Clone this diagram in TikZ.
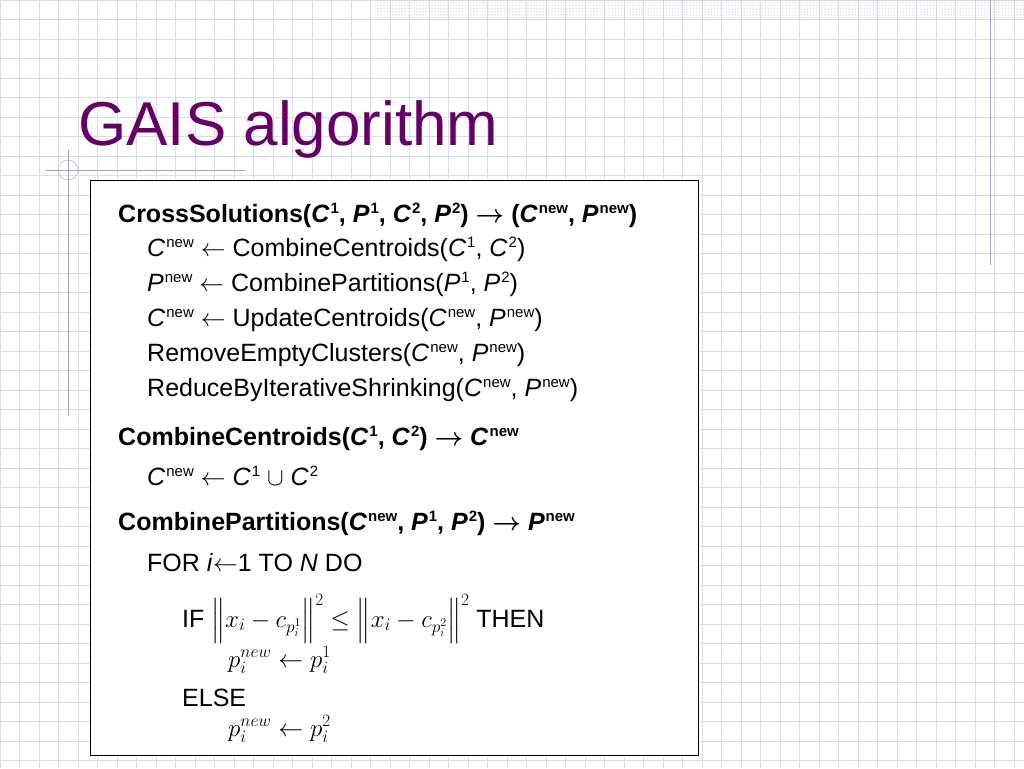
\documentclass[tikz,border=0pt]{standalone}
\usepackage{fontspec}
\setmainfont{Liberation Sans}
\usepackage{amsmath}
\usetikzlibrary{patterns}
\definecolor{gridblue}{RGB}{214,222,240}
\definecolor{titlepurple}{RGB}{102,0,102}
\definecolor{decoblue}{RGB}{150,165,220}
\tikzset{line/.style={anchor=base west,inner sep=0pt,font=\fontsize{25}{28}\selectfont}}
\newcommand{\sv}[2]{\textit{#1}\raisebox{9pt}{\fontsize{15}{15}\selectfont\upshape\kern1pt#2}}
\begin{document}
\begin{tikzpicture}[x=1pt,y=-1pt]
  \useasboundingbox (0,0) rectangle (1024,768);
  \fill[white] (0,0) rectangle (1024,768);
  % background grid
  \foreach \g in {0,19.5,...,1024} \draw[gridblue,line width=0.5pt] (\g,0) -- (\g,768);
  \foreach \g in {0,19.5,...,768} \draw[gridblue,line width=0.5pt] (0,\g) -- (1024,\g);
  \fill[pattern=dots,pattern color=decoblue] (375,0) rectangle (1024,18);
  \draw[decoblue] (990,0) -- (990,265);
  \draw[decoblue] (68,150) -- (68,415);
  \draw[decoblue] (45,170) -- (245,170);
  \draw[decoblue] (68,170) circle (10);
  % title
  \node[anchor=base west,inner sep=0pt,text=titlepurple,font=\fontsize{62}{70}\selectfont] (title) at (78,145) {GAIS algorithm};
  % box
  \draw[fill=white] (90,180) rectangle (698,755);
  \node[line] (l1) at (118,222) {\textbf{CrossSolutions(\sv{C}{1}, \sv{P}{1}, \sv{C}{2}, \sv{P}{2}) $\boldsymbol{\rightarrow}$ (\sv{C}{new}, \sv{P}{new})}};
  \node[line] (l2) at (147,256) {\sv{C}{new} $\leftarrow$ CombineCentroids(\sv{C}{1}, \sv{C}{2})};
  \node[line] (l3) at (147,291) {\sv{P}{new} $\leftarrow$ CombinePartitions(\sv{P}{1}, \sv{P}{2})};
  \node[line] (l4) at (147,326) {\sv{C}{new} $\leftarrow$ UpdateCentroids(\sv{C}{new}, \sv{P}{new})};
  \node[line] (l5) at (147,361) {RemoveEmptyClusters(\sv{C}{new}, \sv{P}{new})};
  \node[line] (l6) at (147,396) {ReduceByIterativeShrinking(\sv{C}{new}, \sv{P}{new})};
  \node[line] (l7) at (118,445) {\textbf{CombineCentroids(\sv{C}{1}, \sv{C}{2}) $\boldsymbol{\rightarrow}$ \sv{C}{new}}};
  \node[line] (l8) at (147,485) {\sv{C}{new} $\leftarrow$ \sv{C}{1} $\cup$ \sv{C}{2}};
  \node[line] (l9) at (118,530) {\textbf{CombinePartitions(\sv{C}{new}, \sv{P}{1}, \sv{P}{2}) $\boldsymbol{\rightarrow}$ \sv{P}{new}}};
  \node[line] (l10) at (147,571) {FOR \textit{i}$\leftarrow$1 TO \textit{N} DO};
  \node[line] (l11) at (182,627) {IF $\Bigl\|x_i-c_{p_i^1}\Bigr\|^2\le\Bigl\|x_i-c_{p_i^2}\Bigr\|^2$ THEN};
  \node[line] (l12) at (228,667) {$p_i^{new}\leftarrow p_i^1$};
  \node[line] (l13) at (182,706) {ELSE};
  \node[line] (l14) at (228,736) {$p_i^{new}\leftarrow p_i^2$};
\end{tikzpicture}
\end{document}
